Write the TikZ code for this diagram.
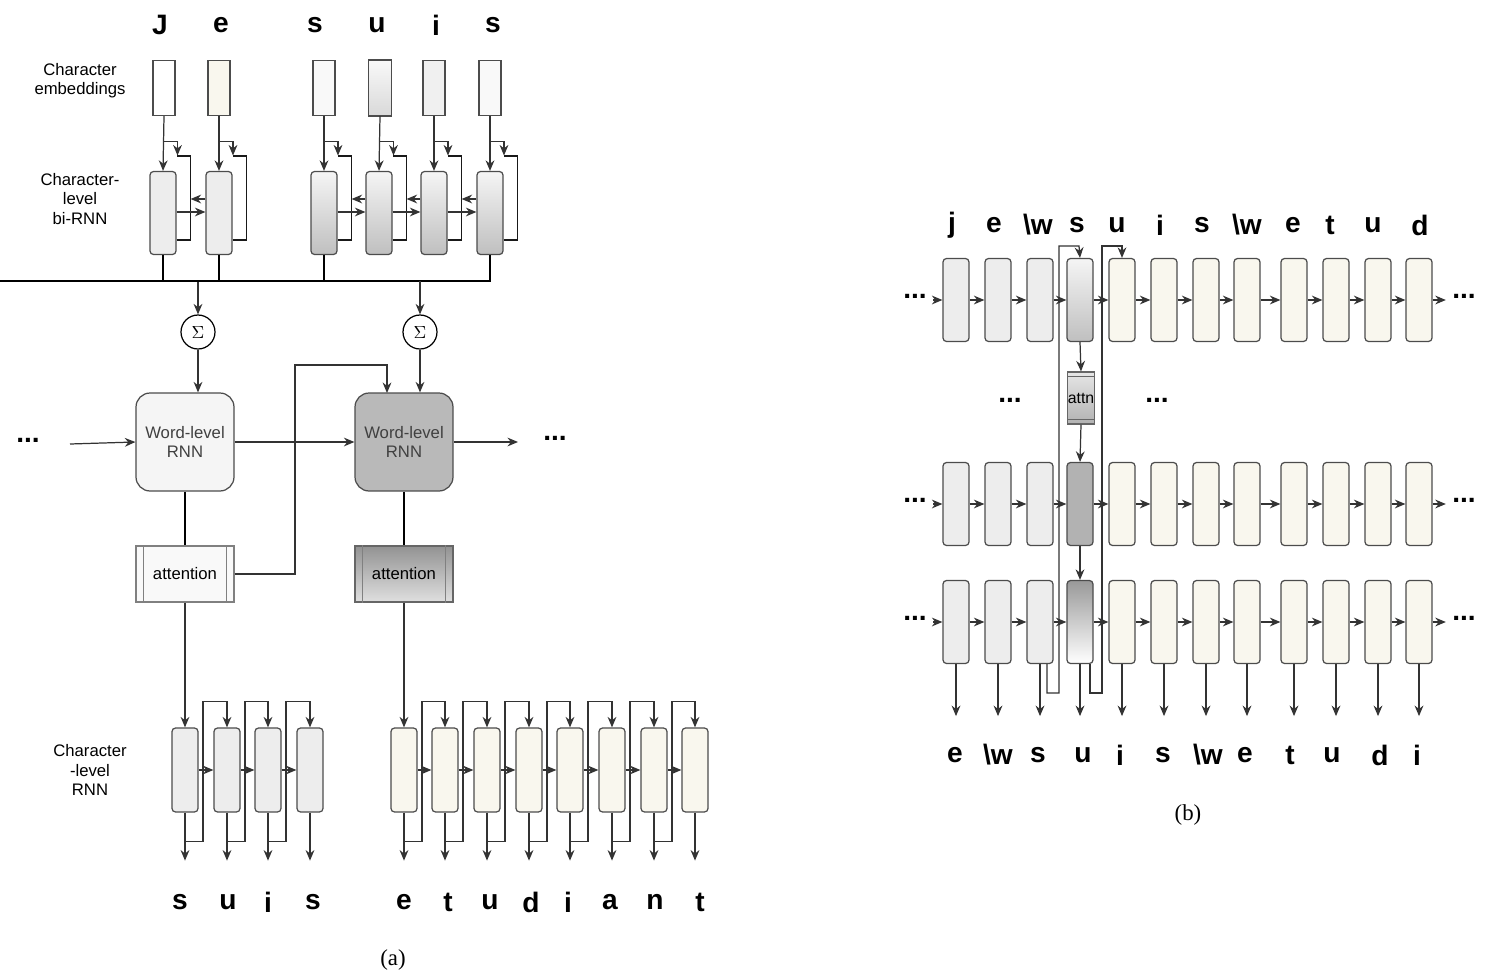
\documentclass[tikz,border=0pt]{standalone}
\usepackage{fontspec}
\setmainfont{Liberation Serif}
\setsansfont{Liberation Sans}
\usetikzlibrary{calc,positioning,arrows.meta}
\definecolor{cream}{HTML}{F9F7EE}
\definecolor{cellgray}{HTML}{EDEDED}
\newcommand{\wsp}{\textbackslash w}
\tikzset{cell/.style={rectangle,rounded corners=2pt,draw=black!70,line width=0.7pt,minimum width=0.52cm,minimum height=1.66cm,inner sep=0pt},
emb/.style={rectangle,draw=black!70,line width=0.7pt,minimum width=0.44cm,minimum height=1.1cm,inner sep=0pt},
letter/.style={font=\sffamily\bfseries\fontsize{16}{18}\selectfont},
lbl/.style={font=\sffamily\fontsize{9.5}{11}\selectfont,align=center},
dots/.style={font=\sffamily\bfseries\fontsize{16}{18}\selectfont},
arr/.style={-{Stealth[length=6pt,width=5pt]},line width=0.7pt,draw=black!80}}

\begin{document}
\begin{tikzpicture}[x=0.02cm,y=-0.02cm,line width=0.7pt]
\useasboundingbox (0,0) rectangle (1495,974);

%PART (a): character level bi-RNN
 \node[letter] (InJ) at (160,25) {J};
 \node[letter] (InE) at (221,25) {e};
 \foreach \l/\x [count=\i] in {s/315,u/377,i/436,s/493}
  {\node[letter] (InS\i) at (\x,25) {\l};}

 \node[lbl] (EmbLabel) at (80,81) {Character\\embeddings};
 \node[lbl] (BiLabel) at (80,199) {Character-\\level\\bi-RNN};
 \node[lbl] (CharLabel) at (90,770) {Character\\-level\\RNN};

 \foreach \x/\c [count=\i] in {164/white,219/cream,324/gray!5,380/gray!20,434/gray!12,490/gray!5}
  {\node[emb,fill=\c] (Emb\i) at (\x,88) {};}
 \shade[top color=gray!5,bottom color=gray!30] (Emb4.north west) rectangle (Emb4.south east);
 \draw[black!70] (Emb4.north west) rectangle (Emb4.south east);

 \foreach \x [count=\i] in {163,219}
  {\node[cell,fill=cellgray] (BiRnn\i) at (\x,213) {};}
 \foreach \x [count=\i from 3] in {324,379,434,490}
  {\node[cell,top color=gray!8,bottom color=gray!50] (BiRnn\i) at (\x,213) {};}

 \foreach \i in {1,...,6}
 {\draw[arr] (Emb\i.south) -- (BiRnn\i.north);
  \draw[arr] ($(Emb\i.south)!0.5!(BiRnn\i.north)+(0,-2)$) -- ++(14,0) -- ++(0,14);
  \draw[black!90] (BiRnn\i.east |- 0,240) -- ++(14,0) |- ($(BiRnn\i.north east)+(0,-15)$);}

 \foreach \i/\j in {1/2,3/4,4/5,5/6}
 {\draw[arr] (BiRnn\i.east |- 0,212) -- (BiRnn\j.west |- 0,212);
  \draw[arr] (BiRnn\j.west |- 0,199) -- ($(BiRnn\i.east |- 0,199)+(14,0)$);}

 \node[circle,draw,minimum size=0.68cm,inner sep=0pt] (SumA) at (198,332) {$\Sigma$};
 \node[circle,draw,minimum size=0.68cm,inner sep=0pt] (SumB) at (420,332) {$\Sigma$};
 \draw (BiRnn1.south) |- (0,281) -| (BiRnn2.south);
 \draw[arr] (SumA |- 0,281) -- (SumA.north);
 \draw (BiRnn3.south) |- (0,281) -| (BiRnn6.south);
 \draw[arr] (SumB |- 0,281) -- (SumB.north);

%Word level RNN and attention
 \node[rectangle,rounded corners=8pt,draw=black!70,fill=gray!8,minimum size=1.96cm,lbl,text=black!75] (WordA) at (185,442) {Word-level\\RNN};
 \node[rectangle,rounded corners=8pt,draw=black!70,fill=gray!55,minimum size=1.96cm,lbl,text=black!75] (WordB) at (404,442) {Word-level\\RNN};
 \draw[arr] (SumA.south) -- (SumA |- WordA.north);
 \draw[arr] (SumB.south) -- (SumB |- WordB.north);

 \node[dots] (DotsA) at (28,440) {...};
 \node[dots] (DotsB) at (555,438) {...};
 \coordinate (InWord) at (70,444);
 \coordinate (OutWord) at (518,442);
 \draw[arr] (InWord) -- (WordA.west);
 \draw[arr] (WordA.east) -- (WordB.west);
 \draw[arr] (WordB.east) -- (OutWord);

 \node[rectangle,draw=black!50,fill=gray!5,minimum width=1.96cm,minimum height=1.12cm,lbl] (AttA) at (185,574) {attention};
 \node[rectangle,draw=black!60,top color=gray!85,bottom color=gray!25,minimum width=1.96cm,minimum height=1.12cm,lbl] (AttB) at (404,574) {attention};
 \foreach \a in {AttA,AttB}
 {\draw[black!50] ($(\a.north west)+(8,0)$) -- ($(\a.south west)+(8,0)$);
  \draw[black!50] ($(\a.north east)+(-8,0)$) -- ($(\a.south east)+(-8,0)$);}
 \draw (WordA.south) -- (AttA.north);
 \draw (WordB.south) -- (AttB.north);
 \draw[arr] (AttA.east) -- (295,574) |- (387,365) -- (387,393);

%Character level decoder
 \foreach \x [count=\i] in {185,227,268,310}
  {\node[cell,fill=cellgray,minimum height=1.68cm] (DecA\i) at (\x,770) {};}
 \foreach \x [count=\i] in {404,445,487,529,570,612,654,695}
  {\node[cell,fill=cream,minimum height=1.68cm] (DecB\i) at (\x,770) {};}
 \draw[arr] (AttA.south) -- (DecA1.north);
 \draw[arr] (AttB.south) -- (DecB1.north);

 \foreach \i in {1,...,4}
  {\draw[arr] (DecA\i.south) -- ++(0,48);}
 \foreach \i in {1,...,8}
  {\draw[arr] (DecB\i.south) -- ++(0,48);}
 \foreach \i/\j in {1/2,2/3,3/4}
  {\draw[arr] (DecA\i.east) -- (DecA\j.west);
   \draw[arr] ($(DecA\i.south)+(0,29)$) -- ++(18,0) |- ($(DecA\j.north)+(0,-26)$) -- (DecA\j.north);}
 \foreach \i/\j in {1/2,2/3,3/4,4/5,5/6,6/7,7/8}
  {\draw[arr] (DecB\i.east) -- (DecB\j.west);
   \draw[arr] ($(DecB\i.south)+(0,29)$) -- ++(18,0) |- ($(DecB\j.north)+(0,-26)$) -- (DecB\j.north);}

 \foreach \l/\x [count=\i] in {s/180,u/228,i/268,s/313}
  {\node[letter] (OutA\i) at (\x,902) {\l};}
 \foreach \l/\x [count=\i] in {e/404,t/448,u/490,d/531,i/568,a/610,n/655,t/700}
  {\node[letter] (OutB\i) at (\x,902) {\l};}
 \node[font=\fontsize{13}{15}\selectfont] (CapA) at (393,960) {(a)};

%PART (b): character level model
 \foreach \l/\x [count=\i] in {j/952,e/994,{\wsp}/1038,s/1077,u/1117,i/1160,s/1202,{\wsp}/1247,e/1293,t/1330,u/1373,d/1420}
  {\node[letter] (Top\i) at (\x,225) {\l};}

 \foreach \r/\y in {1/300,2/504,3/622}
 {\foreach \x [count=\i] in {956,998,1040}
   {\node[cell,fill=cellgray] (R\r C\i) at (\x,\y) {};}
  \foreach \x [count=\i from 5] in {1122,1164,1206,1247,1294,1336,1378,1419}
   {\node[cell,fill=cream] (R\r C\i) at (\x,\y) {};}
  \node[dots] (DotsL\r) at (915,\y-4) {...};
  \node[dots] (DotsR\r) at (1464,\y-4) {...};}
 \node[cell,top color=gray!8,bottom color=gray!50] (R1C4) at (1080,300) {};
 \node[cell,fill=gray!60] (R2C4) at (1080,504) {};
 \node[cell,top color=gray!80,bottom color=white] (R3C4) at (1080,622) {};

 \foreach \r/\y in {1/300,2/504,3/622}
 {\draw[arr] (DotsL\r.east |- 0,\y) -- (R\r C1.west);
  \draw[arr] (R\r C12.east) -- (DotsR\r.west |- 0,\y);
  \foreach \i/\j in {1/2,2/3,3/4,4/5,5/6,6/7,7/8,8/9,9/10,10/11,11/12}
   {\draw[arr] (R\r C\i.east) -- (R\r C\j.west);}}

 \node[rectangle,draw=black!60,top color=gray!20,bottom color=gray!60,minimum width=0.52cm,minimum height=1.04cm,inner sep=0pt,font=\sffamily\fontsize{9}{10}\selectfont] (Attn) at (1081,398) {attn};
 \draw[black!60] ($(Attn.north west)+(0,5)$) -- ($(Attn.north east)+(0,5)$);
 \draw[black!60] ($(Attn.south west)+(0,-5)$) -- ($(Attn.south east)+(0,-5)$);
 \draw[arr] (R1C4.south) -- (Attn.north);
 \draw[arr] (Attn.south) -- (R2C4.north);
 \draw[arr] (R2C4.south) -- (R3C4.north);

 \foreach \i in {1,...,12}
  {\draw[arr] (R3C\i.south) -- ++(0,52);}
 \draw[arr] ($(R3C3.south)+(7,0)$) |- (1059,693) |- (1079,246) -- (R1C4.north);
 \draw[arr] ($(R3C4.south)+(10,0)$) |- (1102,693) |- (1122,246) -- (R1C5.north);

 \foreach \l/\x [count=\i] in {e/955,{\wsp}/998,s/1038,u/1083,i/1120,s/1163,{\wsp}/1208,e/1245,t/1290,u/1332,d/1380,i/1417}
  {\node[letter] (Bot\i) at (\x,755) {\l};}
 \node[dots] (MidDots1) at (1010,400) {...};
 \node[dots] (MidDots2) at (1157,400) {...};
 \node[font=\fontsize{13}{15}\selectfont] (CapB) at (1188,815) {(b)};
\end{tikzpicture}
\end{document}
